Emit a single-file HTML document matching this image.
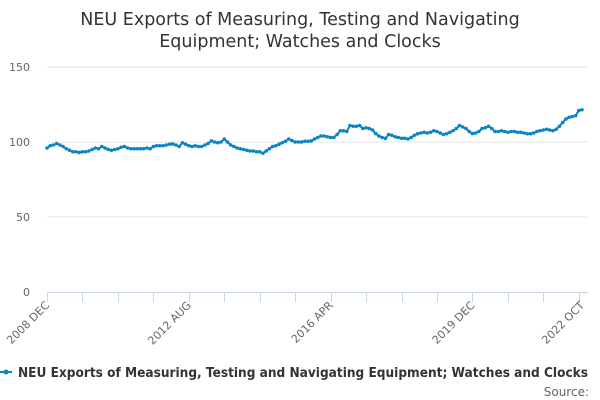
<!DOCTYPE html>
<html><head><meta charset="utf-8"><style>
html,body{margin:0;padding:0;background:#fff;}
svg{display:block;font-family:"DejaVu Sans","Liberation Sans",sans-serif;}
</style></head><body>
<svg id="chart" width="600" height="400" viewBox="0 0 600 400">
<text x="300" y="25" text-anchor="middle" font-size="17.5" fill="#333"><tspan x="300">NEU Exports of Measuring, Testing and Navigating</tspan><tspan x="300" dy="22">Equipment; Watches and Clocks</tspan></text>
<g id="grid"></g>
<g id="yaxis"></g>
<g id="xaxis"></g>
<g id="series"></g>
<g>
<line x1="0" y1="372" x2="12" y2="372" stroke="#0b84c6" stroke-width="2"/>
<circle cx="6" cy="372" r="2.5" fill="#0b84c6"/>
<text x="18" y="377" font-size="13" font-weight="bold" fill="#333" textLength="570" lengthAdjust="spacingAndGlyphs">NEU Exports of Measuring, Testing and Navigating Equipment; Watches and Clocks</text>
</g>
<text x="589" y="396" text-anchor="end" font-size="12" fill="#666">Source:</text>
</svg>
<script>
const values=[96,97.5,98,99,98,97,95.5,94.5,93.5,93.5,93,93.5,93.5,94,95,96,95.5,97,96,95,94.5,95,95.5,96.5,97,96,95.5,95.5,95.5,95.5,95.5,96,95.5,97,97.5,97.5,97.5,98,98.5,98.7,98,97,99.5,98.5,97.5,97,97.5,97,97,98,99,100.7,100,99.5,100,102,100,98,97,96,95.5,95,94.5,94,94,93.5,93.5,92.5,94,95.5,97,97.5,98.5,99.5,100.5,102,101,100,100,100,100.5,100.5,100.7,102,103,104,104,103.5,103,103,105,107.5,107.5,107,111,110.5,110.5,111,109,109.5,109,108,105.6,104,103,102.4,105,104.5,103.5,103,102.5,102.5,102,103,104.5,105.5,106,106.5,106,106.5,107.5,107,106,105,105.5,106.5,107.5,109,111,110,109,107,105.6,106,107,109,109.5,110.5,109,107,107,107.5,107,106.5,107,107,106.5,106.5,106,105.5,105.5,106,107,107.5,108,108.5,108,107.5,108.5,110.5,113,115.3,116.5,117,117.5,121,121.5];
const yTicks=[0,50,100,150];
const xLabels=["2008 DEC","2012 AUG","2016 APR","2019 DEC","2022 OCT"];
const xLabelIdx=[0,44,88,132,166];
const NS="http://www.w3.org/2000/svg";
const X0=47,X1=582,Y0=292,Y1=67;
const xs=i=>X0+i*(X1-X0)/(values.length-1);
const ys=v=>Y0-(v/150)*(Y0-Y1);
function mk(t,a,p){const e=document.createElementNS(NS,t);for(const k in a)e.setAttribute(k,a[k]);p.appendChild(e);return e;}
const grid=document.getElementById('grid'),ya=document.getElementById('yaxis'),xa=document.getElementById('xaxis'),se=document.getElementById('series');
yTicks.forEach(v=>{
 if(v>0){const g=mk('line',{x1:X0,x2:X1+6,y1:ys(v),y2:ys(v),stroke:'#e6e6e6','stroke-width':1},grid);
 
 }
 const t=mk('text',{x:30,y:ys(v)+4,'text-anchor':'end','font-size':11,fill:'#666'},ya);t.textContent=v;
 
 
});
const ax=mk('line',{x1:X0,x2:X1+6,y1:Y0+0.5,y2:Y0+0.5,stroke:'#ccd6eb'},xa);


for(let i=0;i<values.length;i+=11){const x=Math.round(xs(i))+0.5;const tk=mk('line',{x1:x,x2:x,y1:Y0,y2:Y0+10,stroke:'#ccd6eb'},xa);
 
 }
xLabels.forEach((l,k)=>{const x=xs(xLabelIdx[k])+3,y=Y0+14;
 const t=mk('text',{x:x,y:y,'text-anchor':'end','font-size':11,fill:'#666',transform:`rotate(-45 ${x} ${y})`},xa);t.textContent=l;
 
 });
const pl=mk('polyline',{points:values.map((v,i)=>xs(i).toFixed(1)+','+ys(v).toFixed(1)).join(' '),fill:'none',stroke:'#0b84c6','stroke-width':2},se);


values.forEach((v,i)=>{const c=mk('circle',{cx:xs(i),cy:ys(v),r:1.8,fill:'#0b84c6'},se);
 
 });
</script>
</body></html>
